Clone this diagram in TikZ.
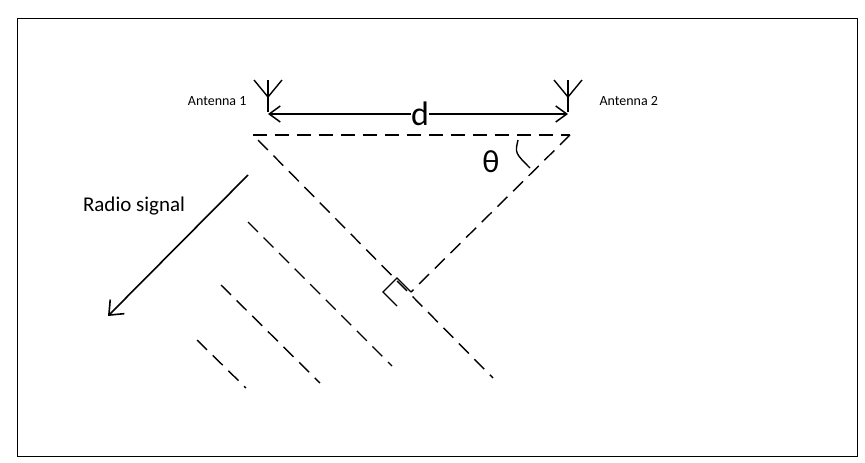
\documentclass[tikz,border=0pt]{standalone}
\usepackage{fontspec}
\setmainfont{Carlito}
\usetikzlibrary{arrows.meta,calc}
\begin{document}
\begin{tikzpicture}[x=1pt,y=-1pt,
  dl/.style={dashed,dash pattern=on 14pt off 8pt,line width=1.4pt},
  ant/.style={line width=1.4pt},
  lbl/.style={font=\fontsize{14}{16}\selectfont}]
\useasboundingbox (0,0) rectangle (865,463);
\fill[white] (0,0) rectangle (865,463);
\draw[line width=1pt] (17,18) rectangle (857,456);
% antennas
\coordinate (a1) at (268,112);
\coordinate (a2) at (568,112);
\foreach \a in {a1,a2}{
  \draw[ant] (\a) -- ++(0,-32);
  \draw[ant] ($(\a)+(-14,-32)$) -- ($(\a)+(0,-15)$) -- ($(\a)+(14,-32)$);
}
\node[lbl,anchor=east] (l1) at (250,101) {Antenna 1};
\node[lbl,anchor=west] (l2) at (596,101) {Antenna 2};
\coordinate (d1) at (268,114);
\coordinate (d2) at (568,114);
\draw[line width=1.5pt,{Straight Barb[length=11pt,width=16pt]}-{Straight Barb[length=11pt,width=16pt]}] (d1) -- (d2);
\node[font=\fontsize{34}{36}\selectfont,fill=white,inner sep=0pt] (d) at (420,114) {d};
% baseline
\coordinate (b1) at (253,135);
\coordinate (b2) at (570,135);
\draw[dl] (b1) -- (b2);
\coordinate (w0a) at (258,140);
\coordinate (w0b) at (493,378);
\draw[dl] (w0a) -- (w0b);
\coordinate (foot) at (411,292);
\draw[dl] (b2) -- (foot);
% right angle mark
\draw[line width=1.4pt] (foot) -- ++(-14,-14) -- ++(-14,14) -- ++(14,14);
% theta
\draw[line width=1.4pt] (518,140) .. controls (515,153) .. (530,168);
\node[font=\fontsize{32}{34}\selectfont] (th) at (491,162) {θ};
% other wavefronts
\coordinate (w1a) at (248,222); \coordinate (w1b) at (392,366);
\coordinate (w2a) at (221,285); \coordinate (w2b) at (320,383);
\coordinate (w3a) at (197,340); \coordinate (w3b) at (246,388);
\draw[dl] (w1a) -- (w1b);
\draw[dl] (w2a) -- (w2b);
\draw[dl] (w3a) -- (w3b);
% radio signal
\coordinate (r1) at (248,175);
\coordinate (r2) at (108,316);
\draw[line width=1.6pt,-{Straight Barb[length=12pt,width=20pt]}] (r1) -- (r2);
\node[font=\fontsize{21}{23}\selectfont] (rs) at (134,206) {Radio signal};
\end{tikzpicture}
\end{document}
